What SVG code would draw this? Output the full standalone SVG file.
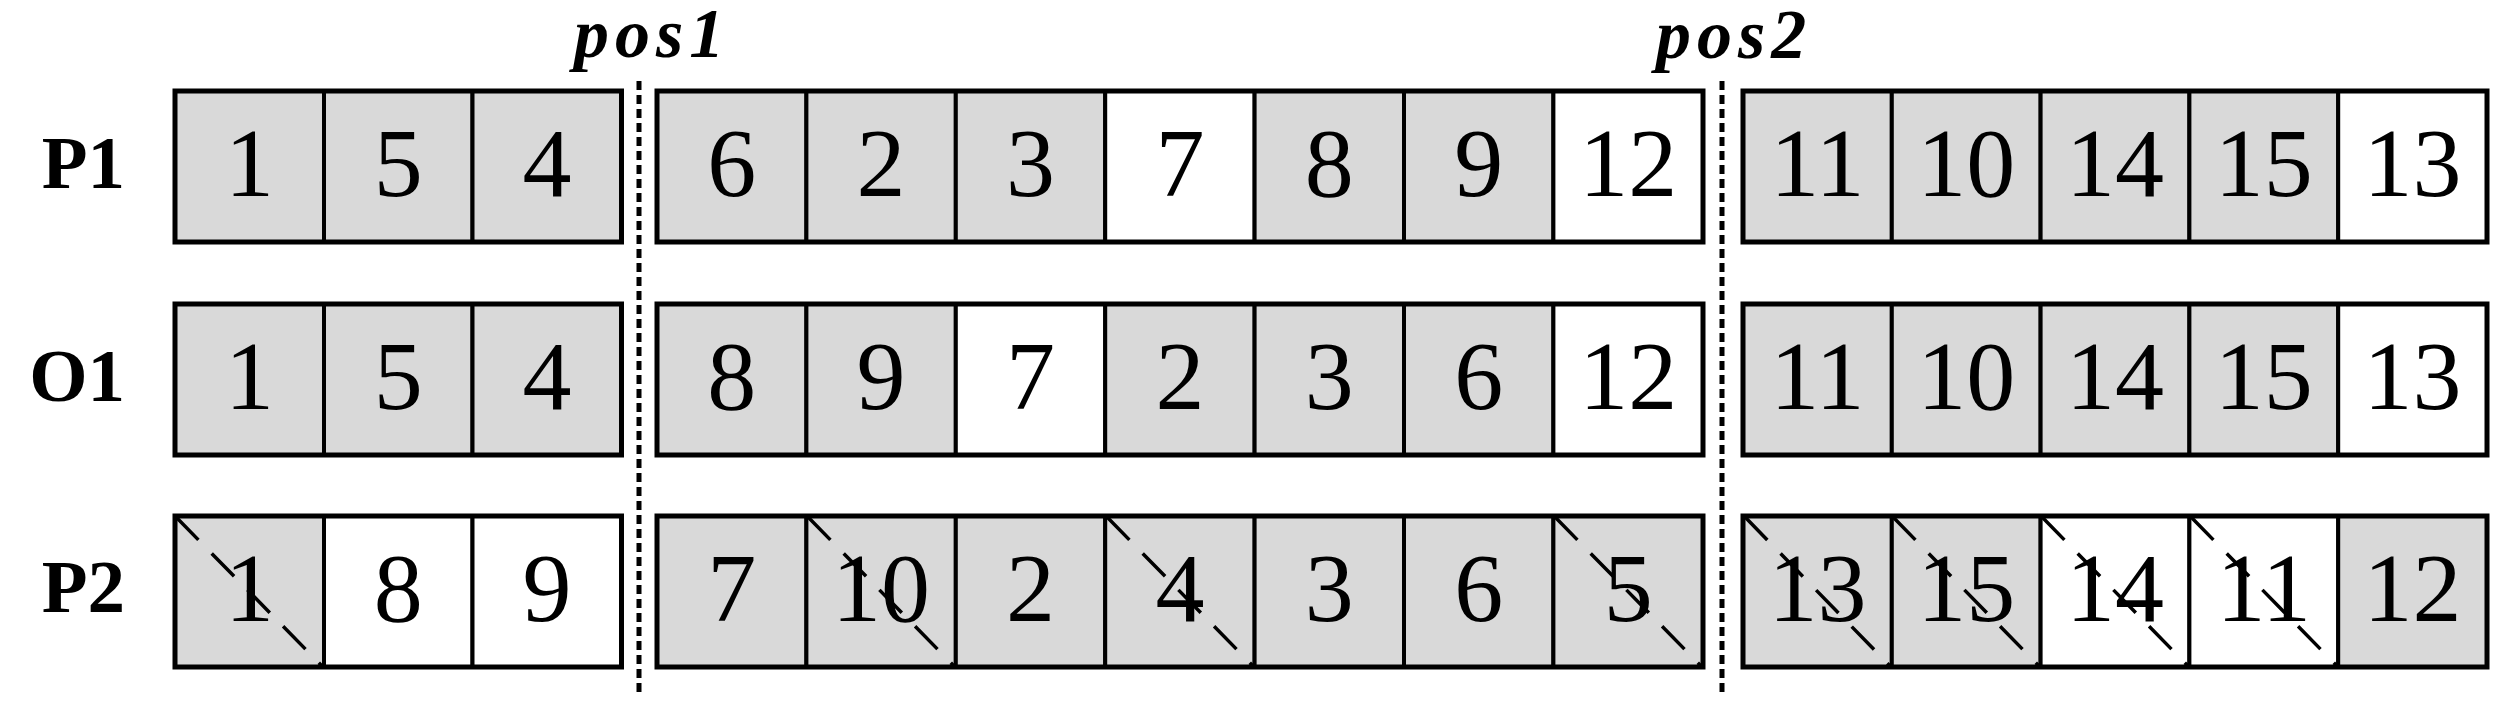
<svg xmlns="http://www.w3.org/2000/svg" width="2508" height="713" viewBox="0 0 2508 713">
<style>
.g{fill:#d9d9d9;stroke:#000;stroke-width:4}
.w{fill:#fff;stroke:#000;stroke-width:4}
.frame{fill:none;stroke:#000;stroke-width:5}
.n{font-family:"Liberation Serif","Times New Roman",serif;font-size:98px;text-anchor:middle;fill:#000}
.lbl{font-family:"Liberation Serif","Times New Roman",serif;font-size:75px;font-weight:bold;text-anchor:end;fill:#000}
.pos{font-family:"Liberation Serif","Times New Roman",serif;font-size:70px;font-weight:bold;font-style:italic;letter-spacing:6px;fill:#000}
.cut{stroke:#000;stroke-width:5;stroke-dasharray:9 5;fill:none}
.diag{stroke:#000;stroke-width:3.5;stroke-dasharray:32 19;fill:none}
</style>
<rect width="2508" height="713" fill="#fff"/>

<g id="labels">
<text class="lbl" x="125" y="188">P1</text>
<text class="lbl" x="125" y="401">O1</text>
<text class="lbl" x="125" y="612">P2</text>
<text class="pos" x="574" y="57">pos1</text>
<text class="pos" x="1656" y="58">pos2</text>
</g>

<g id="row-P1">
<g id="P1-b1">
<rect class="g" x="175" y="91" width="149" height="151"/>
<rect class="g" x="324" y="91" width="148.5" height="151"/>
<rect class="g" x="472.5" y="91" width="149" height="151"/>
<rect class="frame" x="175" y="91" width="446.5" height="151"/>
<text class="n" x="249.5" y="196">1</text>
<text class="n" x="398.3" y="196">5</text>
<text class="n" x="547" y="196">4</text>
</g>
<g id="P1-b2">
<rect class="g" x="657" y="91" width="149.4" height="151"/>
<rect class="g" x="806.4" y="91" width="149.4" height="151"/>
<rect class="g" x="955.8" y="91" width="149.4" height="151"/>
<rect class="w" x="1105.2" y="91" width="149.4" height="151"/>
<rect class="g" x="1254.6" y="91" width="149.4" height="151"/>
<rect class="g" x="1404" y="91" width="149.4" height="151"/>
<rect class="w" x="1553.4" y="91" width="149.6" height="151"/>
<rect class="frame" x="657" y="91" width="1046" height="151"/>
<text class="n" x="731.7" y="196">6</text>
<text class="n" x="881.1" y="196">2</text>
<text class="n" x="1030.5" y="196">3</text>
<text class="n" x="1179.9" y="196">7</text>
<text class="n" x="1329.3" y="196">8</text>
<text class="n" x="1478.7" y="196">9</text>
<text class="n" x="1628.2" y="196">12</text>
</g>
<g id="P1-b3">
<rect class="g" x="1743" y="91" width="148.8" height="151"/>
<rect class="g" x="1891.8" y="91" width="148.8" height="151"/>
<rect class="g" x="2040.6" y="91" width="148.8" height="151"/>
<rect class="g" x="2189.4" y="91" width="148.8" height="151"/>
<rect class="w" x="2338.2" y="91" width="148.8" height="151"/>
<rect class="frame" x="1743" y="91" width="744" height="151"/>
<text class="n" x="1817.4" y="196">11</text>
<text class="n" x="1966.2" y="196">10</text>
<text class="n" x="2115" y="196">14</text>
<text class="n" x="2263.8" y="196">15</text>
<text class="n" x="2412.6" y="196">13</text>
</g>
</g>

<g id="row-O1">
<g id="O1-b1">
<rect class="g" x="175" y="304" width="149" height="151"/>
<rect class="g" x="324" y="304" width="148.5" height="151"/>
<rect class="g" x="472.5" y="304" width="149" height="151"/>
<rect class="frame" x="175" y="304" width="446.5" height="151"/>
<text class="n" x="249.5" y="409">1</text>
<text class="n" x="398.3" y="409">5</text>
<text class="n" x="547" y="409">4</text>
</g>
<g id="O1-b2">
<rect class="g" x="657" y="304" width="149.4" height="151"/>
<rect class="g" x="806.4" y="304" width="149.4" height="151"/>
<rect class="w" x="955.8" y="304" width="149.4" height="151"/>
<rect class="g" x="1105.2" y="304" width="149.4" height="151"/>
<rect class="g" x="1254.6" y="304" width="149.4" height="151"/>
<rect class="g" x="1404" y="304" width="149.4" height="151"/>
<rect class="w" x="1553.4" y="304" width="149.6" height="151"/>
<rect class="frame" x="657" y="304" width="1046" height="151"/>
<text class="n" x="731.7" y="409">8</text>
<text class="n" x="881.1" y="409">9</text>
<text class="n" x="1030.5" y="409">7</text>
<text class="n" x="1179.9" y="409">2</text>
<text class="n" x="1329.3" y="409">3</text>
<text class="n" x="1478.7" y="409">6</text>
<text class="n" x="1628.2" y="409">12</text>
</g>
<g id="O1-b3">
<rect class="g" x="1743" y="304" width="148.8" height="151"/>
<rect class="g" x="1891.8" y="304" width="148.8" height="151"/>
<rect class="g" x="2040.6" y="304" width="148.8" height="151"/>
<rect class="g" x="2189.4" y="304" width="148.8" height="151"/>
<rect class="w" x="2338.2" y="304" width="148.8" height="151"/>
<rect class="frame" x="1743" y="304" width="744" height="151"/>
<text class="n" x="1817.4" y="409">11</text>
<text class="n" x="1966.2" y="409">10</text>
<text class="n" x="2115" y="409">14</text>
<text class="n" x="2263.8" y="409">15</text>
<text class="n" x="2412.6" y="409">13</text>
</g>
</g>

<g id="row-P2">
<g id="P2-b1">
<rect class="g" x="175" y="516" width="149" height="151"/>
<rect class="w" x="324" y="516" width="148.5" height="151"/>
<rect class="w" x="472.5" y="516" width="149" height="151"/>
<rect class="frame" x="175" y="516" width="446.5" height="151"/>
<text class="n" x="249.5" y="621">1</text>
<text class="n" x="398.3" y="621">8</text>
<text class="n" x="547" y="621">9</text>
</g>
<g id="P2-b2">
<rect class="g" x="657" y="516" width="149.4" height="151"/>
<rect class="g" x="806.4" y="516" width="149.4" height="151"/>
<rect class="g" x="955.8" y="516" width="149.4" height="151"/>
<rect class="g" x="1105.2" y="516" width="149.4" height="151"/>
<rect class="g" x="1254.6" y="516" width="149.4" height="151"/>
<rect class="g" x="1404" y="516" width="149.4" height="151"/>
<rect class="g" x="1553.4" y="516" width="149.6" height="151"/>
<rect class="frame" x="657" y="516" width="1046" height="151"/>
<text class="n" x="731.7" y="621">7</text>
<text class="n" x="881.1" y="621">10</text>
<text class="n" x="1030.5" y="621">2</text>
<text class="n" x="1179.9" y="621">4</text>
<text class="n" x="1329.3" y="621">3</text>
<text class="n" x="1478.7" y="621">6</text>
<text class="n" x="1628.2" y="621">5</text>
</g>
<g id="P2-b3">
<rect class="g" x="1743" y="516" width="148.8" height="151"/>
<rect class="g" x="1891.8" y="516" width="148.8" height="151"/>
<rect class="w" x="2040.6" y="516" width="148.8" height="151"/>
<rect class="w" x="2189.4" y="516" width="148.8" height="151"/>
<rect class="g" x="2338.2" y="516" width="148.8" height="151"/>
<rect class="frame" x="1743" y="516" width="744" height="151"/>
<text class="n" x="1817.4" y="621">13</text>
<text class="n" x="1966.2" y="621">15</text>
<text class="n" x="2115" y="621">14</text>
<text class="n" x="2263.8" y="621">11</text>
<text class="n" x="2412.6" y="621">12</text>
</g>
</g>

<g id="connectors">
<line class="cut" x1="639" y1="81" x2="639" y2="693"/>
<line class="cut" x1="1722" y1="81" x2="1722" y2="693"/>
<line class="diag" x1="176" y1="517" x2="322" y2="666"/>
<line class="diag" x1="808" y1="517" x2="954" y2="666"/>
<line class="diag" x1="1107" y1="517" x2="1253" y2="666"/>
<line class="diag" x1="1555" y1="517" x2="1701" y2="666"/>
<line class="diag" x1="1745" y1="517" x2="1890" y2="666"/>
<line class="diag" x1="1893" y1="517" x2="2039" y2="666"/>
<line class="diag" x1="2042" y1="517" x2="2188" y2="666"/>
<line class="diag" x1="2191" y1="517" x2="2337" y2="666"/>
</g>
</svg>
